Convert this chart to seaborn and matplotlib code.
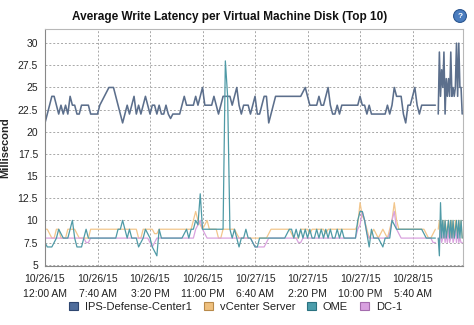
import numpy as np
import pandas as pd
import matplotlib
matplotlib.use("Agg")
import matplotlib.pyplot as plt
from matplotlib.patches import Patch
import seaborn as sns

# ---------------- data ----------------
series_names = ["IPS-Defense-Center1", "vCenter Server", "OME", "DC-1"]

tick_labels = ["10/26/15\n12:00 AM", "10/26/15\n7:40 AM", "10/26/15\n3:20 PM",
               "10/26/15\n11:00 PM", "10/27/15\n6:40 AM", "10/27/15\n2:20 PM",
               "10/27/15\n10:00 PM", "10/28/15\n5:40 AM"]

y_ticks = [5, 7.5, 10, 12.5, 15, 17.5, 20, 22.5, 25, 27.5, 30]
y_tick_labels = ["5", "7.5", "10", "12.5", "15", "17.5", "20", "22.5", "25", "27.5", "30"]

# regular samples (every 20 minutes from 10/26/15 12:00 AM)
ips_regular = [
    21, 22, 23, 24, 24, 23, 22, 23, 22, 23,
    22, 24, 23, 23, 22, 22, 23, 23, 23, 23,
    22, 22, 22, 22, 23, 23.5, 24, 24.5, 25, 25,
    25, 24, 23, 22, 21, 22, 23, 22, 23, 24,
    22, 23, 22, 23, 24, 23, 22, 23, 23, 22,
    23, 22, 22, 23, 22, 21.5, 22, 22, 22, 22,
    23, 24, 23, 23, 23, 23, 24, 23, 24, 25,
    23, 23, 23, 23, 24, 23, 22, 23, 24, 24,
    24, 24, 23, 24, 25, 23, 22, 23, 23, 23,
    22, 23, 24, 22, 22, 23, 24, 24, 21, 22,
    23, 24, 24, 24, 24, 24, 24, 24, 24, 24,
    24, 24, 24, 24.5, 25, 24, 23, 23, 23, 23,
    24, 23, 23, 24, 25, 23, 22, 22, 23, 22,
    23, 23, 23, 23, 23, 23, 23, 23, 24, 23,
    23, 22, 23, 22, 22, 22, 22, 22, 22, 22,
    23, 22, 23, 25, 24, 24, 24, 22, 21, 23,
    23, 24, 25, 23, 22, 23, 23, 23, 23, 23,
    23, 23]

vcenter_regular = [
    9, 9, 8.5, 8, 8, 9, 9, 8, 8, 8,
    9, 9, 9, 9, 8.5, 8, 8, 8, 8, 8,
    9, 9, 9, 9, 9, 9, 9, 9, 9, 9,
    9, 9, 9, 9, 9, 9, 9, 9, 9, 9,
    9, 8, 8, 9, 9, 9, 9, 9, 8.5, 8.5,
    9, 9, 9, 9, 9, 9, 9, 9, 9, 9,
    9, 9, 9, 9, 9, 10, 11, 10, 9.5, 9,
    9.5, 10, 9, 9, 9, 9, 8, 8, 9, 9,
    9, 9, 9, 9, 8.5, 8, 8, 8, 8, 8,
    8, 8, 8, 8, 8, 8, 8, 8, 8.5, 9,
    9, 9, 9, 9, 9, 9, 9, 9, 8.5, 8,
    8, 8, 9, 9, 9, 9, 8.5, 9, 9, 9,
    9, 9, 9, 8.5, 9, 9, 9, 9, 9, 9,
    9, 9, 9, 9, 9, 9, 9, 9.5, 12, 10.5,
    10, 9, 8, 8.5, 9, 8.5, 8, 8.5, 9, 8.5,
    8, 9, 10, 12, 10, 9, 9, 9, 9, 9,
    9, 9, 9, 9, 9, 9, 9, 8.5, 8, 8,
    8.5, 9]

ome_regular = [
    7.5, 7, 7, 7, 7.5, 8, 9, 8.5, 8, 8,
    8, 9, 10, 8, 7, 7, 7, 8, 9, 8,
    8, 8, 8, 8, 8, 8, 8, 8, 8, 8,
    8, 8, 9, 9, 10, 9, 8, 9, 8, 8,
    8, 7, 7.5, 8, 9, 8.5, 8, 7, 6.5, 6,
    9, 8, 8, 8, 8, 8, 8, 8, 8, 8,
    8, 8.5, 9, 8, 9, 9, 10, 9.5, 13, 9,
    9, 9, 9, 9, 9, 9, 9, 9, 9, 28,
    24, 9, 8, 9, 8, 7, 8, 8, 9, 8,
    8, 7.5, 7, 7, 8, 8, 8, 8, 8, 8,
    8, 8, 8, 8, 8, 8, 8.5, 9, 9, 8,
    9, 8, 9, 8, 9, 8, 9, 8, 8, 9,
    8, 9, 8, 9, 8, 9, 8, 8, 9, 8,
    9, 8, 8, 8, 8, 8, 8, 10, 11, 11,
    10, 8.5, 7, 9, 8, 8, 8, 7.5, 7, 8,
    8, 8, 10, 9.5, 9, 9, 9, 9, 9, 9,
    9, 9, 9, 9, 9, 9, 8.5, 8, 8, 8,
    8, 8]

dc1_regular = [
    8, 8, 8, 8, 8, 8, 8, 8, 8, 8,
    8, 8, 8, 8, 8, 8, 8, 8, 7.5, 7.5,
    8, 8, 8, 8, 8, 8, 8, 8, 8, 8,
    8, 8, 8, 8, 8, 8, 8, 8, 8, 8,
    8, 8, 8, 8, 8, 8, 7.5, 7, 7.5, 8,
    8, 8, 8, 8, 8, 8, 8, 8, 8, 8,
    8, 8, 8, 8, 8, 8, 9, 9.5, 10, 9,
    8.5, 8, 8, 8, 8, 8, 8, 8, 8, 8,
    8, 8, 8, 8, 8, 8, 8, 8, 8, 8,
    8, 7.5, 7, 7, 7, 7, 7, 7.5, 8, 8,
    8, 8, 8, 8, 8, 8, 8, 8, 8, 8,
    8, 7.5, 7.5, 8, 8, 8, 8, 8, 8, 8,
    8, 8, 8, 8, 8, 8, 8, 8, 8, 8,
    8, 8, 8, 8, 8, 8, 8, 9, 9.5, 11,
    10, 8.5, 8, 8, 8, 8, 8, 8, 8, 8,
    8, 8.5, 10, 11, 9, 8.5, 8, 8, 8, 8,
    8, 8, 8, 8, 8, 8, 8, 8, 8, 8,
    7.5, 7.5]

# dense samples (every 10 minutes, 10/28/15 from ~9:25 AM)
ips_dense = [22, 29, 24, 27, 25, 29, 22, 26, 24, 26,
             24, 29, 24, 25, 24, 25, 30, 24, 30, 25,
             25, 22]
vcenter_dense = [9, 10, 8, 9, 10, 8, 10, 9, 8, 10,
                 9, 8, 10, 9, 8, 10, 9, 8, 10, 9,
                 10, 8]
ome_dense = [8, 6, 12, 8, 10, 8, 10, 8, 9, 10,
             8, 10, 8, 10, 8, 9, 10, 8, 10, 8,
             10, 8]
dc1_dense = [8, 7.5, 9, 7.5, 8, 9, 7.5, 8.5, 7.5, 9,
             7.5, 8, 9, 7.5, 8, 9, 7.5, 9, 7.5, 8,
             7.5, 7.5]

# ---------------- time stamps ----------------
start = pd.Timestamp("2015-10-26 00:00")
reg_times = start + pd.to_timedelta(np.arange(len(ips_regular)) * 20, unit="min")
dense_times = start + pd.to_timedelta(3445 + np.arange(len(ips_dense)) * 10, unit="min")

regular = dict(zip(series_names, [ips_regular, vcenter_regular, ome_regular, dc1_regular]))
dense = dict(zip(series_names, [ips_dense, vcenter_dense, ome_dense, dc1_dense]))

frames = []
for name in series_names:
    frames.append(pd.DataFrame({"time": reg_times, "value": regular[name],
                                "series": name, "segment": 0}))
    frames.append(pd.DataFrame({"time": dense_times, "value": dense[name],
                                "series": name, "segment": 1}))
df = pd.concat(frames, ignore_index=True)

line_colors = {"IPS-Defense-Center1": "#5c6f8c", "vCenter Server": "#f2c68c",
               "OME": "#4f9aa6", "DC-1": "#d9a2de"}
legend_face = {"IPS-Defense-Center1": "#4f6d9c", "vCenter Server": "#efc07e",
               "OME": "#4b9dab", "DC-1": "#d8a0e0"}
legend_edge = {"IPS-Defense-Center1": "#2e4670", "vCenter Server": "#b88a4a",
               "OME": "#2a7280", "DC-1": "#a46cae"}
line_widths = {"IPS-Defense-Center1": 1.15, "vCenter Server": 0.9,
               "OME": 0.9, "DC-1": 0.9}

# ---------------- plot ----------------
sns.set_style("white")
plt.rcParams["font.family"] = ["Liberation Sans", "DejaVu Sans"]

fig = plt.figure(figsize=(4.74, 3.25), dpi=100)
ax = fig.add_axes([45 / 474, 59 / 325, 418 / 474, 237 / 325])

draw_order = ["IPS-Defense-Center1", "vCenter Server", "DC-1", "OME"]
for name in draw_order:
    sns.lineplot(data=df[df["series"] == name], x="time", y="value",
                 units="segment", estimator=None, color=line_colors[name],
                 linewidth=line_widths[name], ax=ax, legend=False)

tick_pos = [pd.to_datetime(t.replace("\n", " "), format="%m/%d/%y %I:%M %p")
            for t in tick_labels]
ax.set_xticks(tick_pos)
ax.set_xticklabels(tick_labels, fontsize=7.5, color="#222222", linespacing=1.6)
ax.set_yticks(y_ticks)
ax.set_yticklabels(y_tick_labels, fontsize=7.5, color="#222222")
ax.set_xlim(start, start + pd.Timedelta(minutes=3662))
ax.set_ylim(4.85, 31.6)

ax.grid(True, color="#a8a8a8", linestyle=(0, (2, 2)), linewidth=0.7)
for s in ["left", "bottom", "right", "top"]:
    ax.spines[s].set_color("#b8b8b8")
    ax.spines[s].set_linewidth(0.8)
ax.spines["left"].set_color("#888888")
ax.spines["bottom"].set_color("#888888")
ax.tick_params(axis="x", length=0, pad=6)
ax.tick_params(axis="y", length=0, pad=5)
ax.set_xlabel("")
ax.set_ylabel("Millisecond", fontsize=8, fontweight="bold", labelpad=5)

fig.text(0.485, 1 - 17 / 325, "Average Write Latency per Virtual Machine Disk (Top 10)",
         ha="center", va="center", fontsize=8.5, fontweight="bold", color="#111111")
fig.text(460 / 474, 1 - 16 / 325, "?", ha="center", va="center", fontsize=6,
         fontweight="bold", color="white",
         bbox=dict(boxstyle="circle,pad=0.35", fc="#4a7dbf", ec="#2b5690", lw=0.8))

handles = [Patch(facecolor=legend_face[n], edgecolor=legend_edge[n], linewidth=0.8)
           for n in series_names]
fig.legend(handles, series_names, loc="center", bbox_to_anchor=(0.497, 1 - 307 / 325),
           ncol=4, frameon=False, fontsize=8, handlelength=0.8, handleheight=0.8,
           handletextpad=0.6, columnspacing=1.1, labelcolor="#222222")

fig.savefig("out.png", dpi=100)
